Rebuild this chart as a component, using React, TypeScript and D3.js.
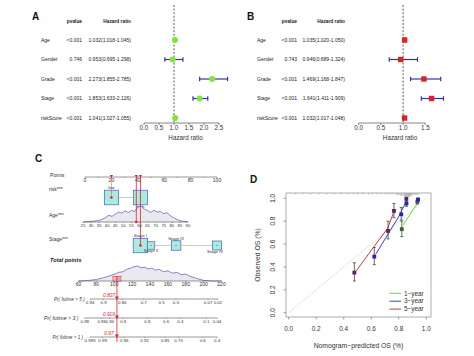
import React from 'react';
import * as d3 from 'd3';

const FONT = '"Liberation Sans", Arial, Helvetica, sans-serif';

// ---------- Panel A / B : forest plots ----------
const forestVars = ['Age', 'Gender', 'Grade', 'Stage', 'riskScore'];
const uniP = ['<0.001', '0.746', '<0.001', '<0.001', '<0.001'];
const uniHR = [1.032, 0.953, 2.273, 1.853, 1.041];
const uniLow = [1.018, 0.695, 1.855, 1.633, 1.027];
const uniHigh = [1.045, 1.298, 2.785, 2.126, 1.055];
const uniTicks = [0, 0.5, 1, 1.5, 2, 2.5];

const multiP = ['<0.001', '0.743', '<0.001', '<0.001', '<0.001'];
const multiHR = [1.035, 0.946, 1.469, 1.641, 1.032];
const multiLow = [1.02, 0.689, 1.168, 1.411, 1.017];
const multiHigh = [1.05, 1.324, 1.847, 1.909, 1.048];
const multiTicks = [0, 0.5, 1, 1.5];

// ---------- Panel C : nomogram ----------
const pointTicks = [0, 20, 40, 60, 80, 100];
const riskLevels = ['low', 'high'];
const riskPoints = [20, 42];
const riskBox = [14, 14];
const ageTicks = [25, 30, 35, 40, 45, 50, 55, 60, 65, 70, 75, 80, 85, 90];
const ageDensAge = [25, 30, 35, 38, 41, 43, 45, 47, 49, 51, 53, 55, 57, 59, 61, 63, 65, 67, 69, 71, 73, 75, 77, 79, 81, 83, 86, 90];
const ageDens = [0, 0.04, 0.1, 0.22, 0.42, 0.35, 0.5, 0.62, 0.55, 0.7, 0.6, 0.72, 0.66, 0.92, 1.0, 0.8, 0.72, 0.6, 0.74, 0.62, 0.66, 0.52, 0.58, 0.4, 0.28, 0.16, 0.06, 0.01];
const stageLevels = ['Stage I', 'Stage II', 'Stage III', 'Stage IV'];
const stagePoints = [42, 50, 69, 100];
const stageBox = [14.5, 7.5, 9.5, 9];
const totalTicks = [60, 80, 100, 120, 140, 160, 180, 200, 220];
const totalDensX = [60, 70, 80, 88, 95, 100, 105, 110, 114, 118, 122, 126, 130, 134, 138, 142, 146, 150, 155, 160, 165, 170, 175, 180, 185, 190, 195, 200, 210, 220];
const totalDens = [0, 0.03, 0.1, 0.22, 0.35, 0.45, 0.58, 0.62, 0.78, 0.85, 0.95, 1.0, 0.88, 0.92, 0.8, 0.86, 0.72, 0.78, 0.62, 0.68, 0.52, 0.58, 0.42, 0.46, 0.3, 0.22, 0.12, 0.04, 0, 0];
const prLabels = ['Pr( futime > 5 )', 'Pr( futime > 3 )', 'Pr( futime > 1 )'];
const prTickLabels = [
  ['0.94', '0.9', '0.84', '0.7', '0.5', '0.3', '0.07', '0.02'],
  ['0.98', '0.96', '0.94', '0.9', '0.8', '0.6', '0.4', '0.1', '0.04'],
  ['0.995', '0.99', '0.96', '0.92', '0.85', '0.75', '0.6', '0.4'],
];
const prTickTotals = [
  [73, 88, 109, 133, 153, 169, 205, 216],
  [67, 86, 95, 110, 137, 158, 174, 203, 215],
  [73, 87, 111, 134, 157, 172, 199, 215],
];
const patientRisk = 0;
const patientAge = 58;
const patientStage = 0;
const patientTotal = 103;
const patientPr = ['0.807', '0.919', '0.97'];

// ---------- Panel D : calibration ----------
const calTicks = [0, 0.2, 0.4, 0.6, 0.8, 1.0];
const calSeries = ['1\u2212year', '3\u2212year', '5\u2212year'];
const calColors = ['#66dd33', '#3344dd', '#dd3333'];
const calPointColors = ['#3f5f3f', '#2222bb', '#5a2266'];
const y1Pred = [0.822, 0.935];
const y1Obs = [0.73, 0.97];
const y1Lo = [0.665, 0.95];
const y1Hi = [0.8, 0.99];
const y1LinePred = [0.83, 0.95];
const y1LineObs = [0.765, 0.985];
const y3Pred = [0.622, 0.818, 0.856, 0.94];
const y3Obs = [0.49, 0.86, 0.955, 0.99];
const y3Lo = [0.42, 0.81, 0.93, 0.975];
const y3Hi = [0.57, 0.92, 0.99, 1.0];
const y3LinePred = [0.632, 0.8, 0.86];
const y3LineObs = [0.51, 0.84, 0.985];
const y5Pred = [0.477, 0.722, 0.765, 0.855];
const y5Obs = [0.35, 0.715, 0.89, 0.995];
const y5Lo = [0.277, 0.645, 0.83, 0.97];
const y5Hi = [0.437, 0.8, 0.955, 1.0];
const y5LinePred = [0.487, 0.72, 0.77];
const y5LineObs = [0.36, 0.74, 0.9];
const rugVals = [0.05, 0.1, 0.16, 0.22, 0.28, 0.33, 0.38, 0.43, 0.47, 0.5, 0.54, 0.58, 0.61, 0.64, 0.67, 0.7, 0.72, 0.74, 0.76, 0.78, 0.79, 0.8, 0.81, 0.82, 0.83, 0.84, 0.845, 0.85, 0.855, 0.86, 0.865, 0.87, 0.875, 0.88, 0.885, 0.89, 0.9, 0.91, 0.92, 0.93, 0.94];
const rugLen = [1.5, 1.5, 1.5, 1.5, 1.5, 1.5, 1.5, 1.5, 1.5, 1.5, 1.5, 1.5, 1.5, 1.5, 1.5, 1.5, 1.5, 1.5, 1.5, 2, 2, 2, 2.5, 3, 3, 3.5, 4, 4, 5, 5, 4.5, 4, 4, 3.5, 3, 3, 2.5, 2, 2, 2, 2];

function Forest({ hr, lo, hi, p, ticks, x, labelX, pX, hrX, color, square }) {
  const y = d3.scalePoint().domain(forestVars).range([40, 118]);
  const axY = 123;
  return (
    <g fontFamily={FONT}>
      <text x={pX} y={22.8} fontSize={4.8} fontWeight="bold" textAnchor="end" fill="#222">pvalue</text>
      <text x={hrX} y={22.8} fontSize={4.8} fontWeight="bold" textAnchor="end" fill="#222">Hazard ratio</text>
      {forestVars.map((v, i) => (
        <g key={v}>
          <text x={labelX} y={y(v)! + 1.8} fontSize={5} fill="#222">{v}</text>
          <text x={pX} y={y(v)! + 1.8} fontSize={5} fill="#222" textAnchor="end">{p[i]}</text>
          <text x={hrX} y={y(v)! + 1.8} fontSize={5} fill="#222" textAnchor="end">
            {`${hr[i].toFixed(3)}(${lo[i].toFixed(3)}-${hi[i].toFixed(3)})`}
          </text>
        </g>
      ))}
      <line x1={x(1)} x2={x(1)} y1={5} y2={axY} stroke="#333" strokeWidth={0.8} strokeDasharray="2,1.6" />
      {forestVars.map((v, i) => (
        <g key={v}>
          <line x1={x(lo[i])} x2={x(hi[i])} y1={y(v)} y2={y(v)} stroke="#3333aa" strokeWidth={1.2} />
          <line x1={x(lo[i])} x2={x(lo[i])} y1={y(v)! - 2.2} y2={y(v)! + 2.2} stroke="#3333aa" strokeWidth={1.2} />
          <line x1={x(hi[i])} x2={x(hi[i])} y1={y(v)! - 2.2} y2={y(v)! + 2.2} stroke="#3333aa" strokeWidth={1.2} />
          {square ? (
            <rect x={x(hr[i]) - 2.7} y={y(v)! - 2.7} width={5.4} height={5.4} fill={color} />
          ) : (
            <circle cx={x(hr[i])} cy={y(v)} r={3} fill={color} />
          )}
        </g>
      ))}
      <line x1={x(ticks[0])} x2={x(ticks[ticks.length - 1])} y1={axY} y2={axY} stroke="#555" strokeWidth={0.7} />
      {ticks.map((t) => (
        <g key={t}>
          <line x1={x(t)} x2={x(t)} y1={axY} y2={axY + 2} stroke="#555" strokeWidth={0.7} />
          <text x={x(t)} y={130.3} fontSize={6.3} textAnchor="middle" fill="#333">{t.toFixed(1)}</text>
        </g>
      ))}
      <text x={(x(ticks[0]) + x(ticks[ticks.length - 1])) / 2 + (square ? 8 : 4)} y={139.5} fontSize={6.3} textAnchor="middle" fill="#333">Hazard ratio</text>
    </g>
  );
}

function Nomogram() {
  const pts = d3.scaleLinear().domain([0, 100]).range([85, 217]);
  const ageS = d3.scaleLinear().domain([25, 90]).range([83, 188]);
  const totS = d3.scaleLinear().domain([60, 220]).range([78.5, 221.5]);
  const pY = 177, riskY = 197.5, ageY = 222, stageY = 245.5, totY = 281;
  const prY = [299, 318, 337];
  const prLabelEnd = [84.5, 78.5, 83];
  const ageArea = d3.area<number>().x((_, i) => ageS(ageDensAge[i])).y0(ageY).y1((d) => ageY - d * 16).curve(d3.curveLinear);
  const ageLine = d3.line<number>().x((_, i) => ageS(ageDensAge[i])).y((d) => ageY - d * 16);
  const totArea = d3.area<number>().x((_, i) => totS(totalDensX[i])).y0(totY).y1((d) => totY - d * 15);
  const totLine = d3.line<number>().x((_, i) => totS(totalDensX[i])).y((d) => totY - d * 15);
  const red = '#e0202a';
  const boxFill = '#a9ebdf';
  const boxStroke = '#4a62b8';
  const riskX = pts(riskPoints[patientRisk]);
  const ageX = ageS(patientAge);
  const stageX = pts(stagePoints[patientStage]);
  const totX = totS(patientTotal);
  const tri = (cx: number, cy: number, s: number) => `M${cx - s},${cy - s} L${cx + s},${cy - s} L${cx},${cy + s * 0.8} Z`;
  return (
    <g fontFamily={FONT} fill="#333">
      <text x={35} y={162} fontSize={10} fontWeight="bold" fill="#111">C</text>
      {/* Points */}
      <text x={50} y={176.5} fontSize={5.2}>Points</text>
      <line x1={pts(0)} x2={pts(100)} y1={pY} y2={pY} stroke="#555" strokeWidth={0.6} />
      {d3.range(0, 101, 10).map((t) => (
        <line key={t} x1={pts(t)} x2={pts(t)} y1={pY} y2={pY + (t % 20 === 0 ? 1.5 : 1)} stroke="#555" strokeWidth={0.5} />
      ))}
      {pointTicks.map((t) => (
        <text key={t} x={pts(t)} y={pY + 5} fontSize={5} textAnchor="middle">{t}</text>
      ))}
      {/* risk */}
      <text x={49} y={190.5} fontSize={5}>risk***</text>
      <line x1={pts(riskPoints[0])} x2={pts(riskPoints[1])} y1={riskY} y2={riskY} stroke="#aaa" strokeWidth={0.6} />
      {riskLevels.map((r, i) => (
        <g key={r}>
          <rect x={pts(riskPoints[i]) - riskBox[i] / 2} y={riskY - riskBox[i] / 2 - 0.3} width={riskBox[i]} height={riskBox[i] + 0.6} fill={boxFill} stroke={boxStroke} strokeWidth={0.7} />
          <circle cx={pts(riskPoints[i])} cy={riskY} r={0.5} fill="#336" />
          <text x={pts(riskPoints[i])} y={i === 0 ? riskY - riskBox[i] / 2 - 1.2 : riskY + riskBox[i] / 2 + 3.8} fontSize={4.2} textAnchor="middle">{r}</text>
        </g>
      ))}
      {/* Age */}
      <text x={49} y={216.5} fontSize={5}>Age***</text>
      <path d={ageArea(ageDens)!} fill="#e9e9f0" />
      <path d={ageLine(ageDens)!} fill="none" stroke="#3b3bb0" strokeWidth={0.6} />
      <line x1={ageS(25)} x2={ageS(90)} y1={ageY} y2={ageY} stroke="#555" strokeWidth={0.6} />
      {ageTicks.map((t) => (
        <g key={t}>
          <line x1={ageS(t)} x2={ageS(t)} y1={ageY} y2={ageY + 1} stroke="#555" strokeWidth={0.5} />
          <text x={ageS(t)} y={ageY + 4.8} fontSize={4.3} textAnchor="middle">{t}</text>
        </g>
      ))}
      {/* Stage */}
      <text x={49} y={240.5} fontSize={5}>Stage***</text>
      <line x1={pts(stagePoints[0])} x2={pts(stagePoints[3])} y1={stageY} y2={stageY} stroke="#aaa" strokeWidth={0.6} />
      {stageLevels.map((s, i) => (
        <g key={s}>
          <rect x={pts(stagePoints[i]) - stageBox[i] / 2} y={stageY - stageBox[i] / 2} width={stageBox[i]} height={stageBox[i]} fill={boxFill} stroke={boxStroke} strokeWidth={0.7} />
          <circle cx={pts(stagePoints[i])} cy={stageY} r={0.5} fill="#336" />
          <text x={pts(stagePoints[i]) + (i === 3 ? -2 : 0)} y={i % 2 === 0 ? stageY - stageBox[i] / 2 - 1.2 : stageY + stageBox[i] / 2 + 2.8} fontSize={4.2} textAnchor="middle">{s}</text>
        </g>
      ))}
      {/* Total points */}
      <text x={50} y={262} fontSize={5.6} fontWeight="bold" fontStyle="italic" fill="#222">Total points</text>
      <path d={totArea(totalDens)!} fill="#e9e9f0" />
      <path d={totLine(totalDens)!} fill="none" stroke="#3b3bb0" strokeWidth={0.6} />
      <line x1={totS(60)} x2={totS(220)} y1={totY} y2={totY} stroke="#555" strokeWidth={0.6} />
      {totalTicks.map((t) => (
        <g key={t}>
          <line x1={totS(t)} x2={totS(t)} y1={totY} y2={totY + 1} stroke="#555" strokeWidth={0.5} />
          <text x={totS(t)} y={totY + 5.2} fontSize={5} textAnchor="middle">{t}</text>
        </g>
      ))}
      {/* Pr rows */}
      {prLabels.map((lab, r) => (
        <g key={lab}>
          <text x={prLabelEnd[r]} y={prY[r] + 1.8} fontSize={r === 1 ? 5.2 : 4.6} fontStyle="italic" textAnchor="end">{lab}</text>
          <line x1={totS(prTickTotals[r][0])} x2={totS(prTickTotals[r][prTickTotals[r].length - 1])} y1={prY[r]} y2={prY[r]} stroke="#555" strokeWidth={0.6} />
          {prTickTotals[r].map((t, k) => (
            <g key={k}>
              <line x1={totS(t)} x2={totS(t)} y1={prY[r]} y2={prY[r] + 1} stroke="#555" strokeWidth={0.5} />
              <text x={totS(t)} y={prY[r] + 4.6} fontSize={4.4} textAnchor="middle">{prTickLabels[r][k]}</text>
            </g>
          ))}
        </g>
      ))}
      {/* patient markers */}
      <line x1={riskX} x2={riskX} y1={pY} y2={riskY} stroke={red} strokeWidth={0.7} opacity={0.6} />
      <line x1={ageX} x2={ageX} y1={pY} y2={ageY} stroke={red} strokeWidth={0.8} />
      <line x1={stageX} x2={stageX} y1={pY} y2={stageY} stroke={red} strokeWidth={0.8} />
      <circle cx={riskX} cy={riskY} r={1.3} fill={red} />
      <circle cx={ageX} cy={ageY} r={1.3} fill={red} />
      <circle cx={stageX} cy={stageY} r={1.3} fill={red} />
      {[riskX, ageX, stageX].map((xx, i) => (
        <path key={i} d={tri(xx, pY - 0.5, 1.6)} fill={red} />
      ))}
      <line x1={totX} x2={totX} y1={totY - 5} y2={prY[2] + 5} stroke={red} strokeWidth={0.8} />
      <rect x={totX - 4} y={totY - 4.6} width={8} height={4.8} fill="none" stroke={red} strokeWidth={0.6} />
      <text x={totX} y={totY - 0.8} fontSize={3.6} textAnchor="middle" fill={red}>{patientTotal}</text>
      {prY.map((yy, r) => (
        <g key={r}>
          <path d={tri(totX, yy - 0.5, 2)} fill={red} />
          <text x={totX - 8} y={yy - 2} fontSize={4.8} textAnchor="middle" fill={red} fontStyle="italic">{patientPr[r]}</text>
        </g>
      ))}
    </g>
  );
}

function Calibration() {
  const x = d3.scaleLinear().domain([0, 1]).range([288.7, 426.3]);
  const y = d3.scaleLinear().domain([0, 1]).range([312.7, 198.3]);
  const box = { l: 286, r: 431, t: 193, b: 317 };
  const series = [
    { pred: y1Pred, obs: y1Obs, lo: y1Lo, hi: y1Hi, lp: y1LinePred, lo2: y1LineObs },
    { pred: y3Pred, obs: y3Obs, lo: y3Lo, hi: y3Hi, lp: y3LinePred, lo2: y3LineObs },
    { pred: y5Pred, obs: y5Obs, lo: y5Lo, hi: y5Hi, lp: y5LinePred, lo2: y5LineObs },
  ];
  const line = d3.line<number>();
  return (
    <g fontFamily={FONT} fill="#333">
      <text x={250} y={183} fontSize={10} fontWeight="bold" fill="#111">D</text>
      <line x1={x(0)} y1={y(0)} x2={x(1)} y2={y(1)} stroke="#dedede" strokeWidth={0.8} />
      {rugVals.map((v, i) => (
        <line key={i} x1={x(v)} x2={x(v)} y1={box.t} y2={box.t + rugLen[i]} stroke="#999" strokeWidth={0.6} />
      ))}
      {series.map((s, k) => (
        <path key={k} d={line(s.lp.map((p, i) => [x(p), y(s.lo2[i])]))!} fill="none" stroke={calColors[k]} strokeWidth={1} />
      ))}
      {series.map((s, k) => (
        <g key={k}>
          {s.pred.map((p, i) => (
            <g key={i}>
              <line x1={x(p)} x2={x(p)} y1={y(s.lo[i])} y2={y(s.hi[i])} stroke="#444" strokeWidth={0.8} />
              <line x1={x(p) - 1.5} x2={x(p) + 1.5} y1={y(s.lo[i])} y2={y(s.lo[i])} stroke="#444" strokeWidth={0.8} />
              <line x1={x(p) - 1.5} x2={x(p) + 1.5} y1={y(s.hi[i])} y2={y(s.hi[i])} stroke="#444" strokeWidth={0.8} />
              <rect x={x(p) - 1.9} y={y(s.obs[i]) - 1.9} width={3.8} height={3.8} fill={calPointColors[k]} />
            </g>
          ))}
        </g>
      ))}
      <rect x={box.l} y={box.t} width={box.r - box.l} height={box.b - box.t} fill="none" stroke="#999" strokeWidth={0.8} />
      {calTicks.map((t) => (
        <g key={t}>
          <line x1={x(t)} x2={x(t)} y1={box.b} y2={box.b + 2.5} stroke="#777" strokeWidth={0.7} />
          <text x={x(t)} y={330.5} fontSize={6.4} textAnchor="middle">{t.toFixed(1)}</text>
          <line x1={box.l} x2={box.l - 2.5} y1={y(t)} y2={y(t)} stroke="#777" strokeWidth={0.7} />
          <text transform={`translate(274.5,${y(t)}) rotate(-90)`} fontSize={6.4} textAnchor="middle">{t.toFixed(1)}</text>
        </g>
      ))}
      <text x={358.5} y={347.5} fontSize={6.8} textAnchor="middle">Nomogram{'\u2212'}predicted OS (%)</text>
      <text transform={`translate(259.5,255) rotate(-90)`} fontSize={6.8} textAnchor="middle">Observed OS (%)</text>
      {calSeries.map((s, k) => (
        <g key={s}>
          <line x1={389.5} x2={401} y1={293.3 + k * 7.9} y2={293.3 + k * 7.9} stroke={calColors[k]} strokeWidth={1} />
          <text x={404} y={295.5 + k * 7.9} fontSize={6.4}>{s}</text>
        </g>
      ))}
    </g>
  );
}

export default function App() {
  const xA = d3.scaleLinear().domain([0, 2.5]).range([144, 219]);
  const xB = d3.scaleLinear().domain([0, 1.5]).range([358.7, 425.3]);
  return (
    <svg width={474} height={356} viewBox="0 0 474 356" style={{ position: 'absolute', left: 0, top: 0, background: '#fff' }}>
      <rect width={474} height={356} fill="#fff" />
      <text x={32} y={19.5} fontSize={10} fontWeight="bold" fontFamily={FONT} fill="#111">A</text>
      <text x={247} y={19.5} fontSize={10} fontWeight="bold" fontFamily={FONT} fill="#111">B</text>
      <Forest hr={uniHR} lo={uniLow} hi={uniHigh} p={uniP} ticks={uniTicks} x={xA} labelX={41} pX={82} hrX={131} color="#7ee83a" square={false} />
      <Forest hr={multiHR} lo={multiLow} hi={multiHigh} p={multiP} ticks={multiTicks} x={xB} labelX={257} pX={297} hrX={345} color="#dd2222" square={true} />
      <Nomogram />
      <Calibration />
    </svg>
  );
}
